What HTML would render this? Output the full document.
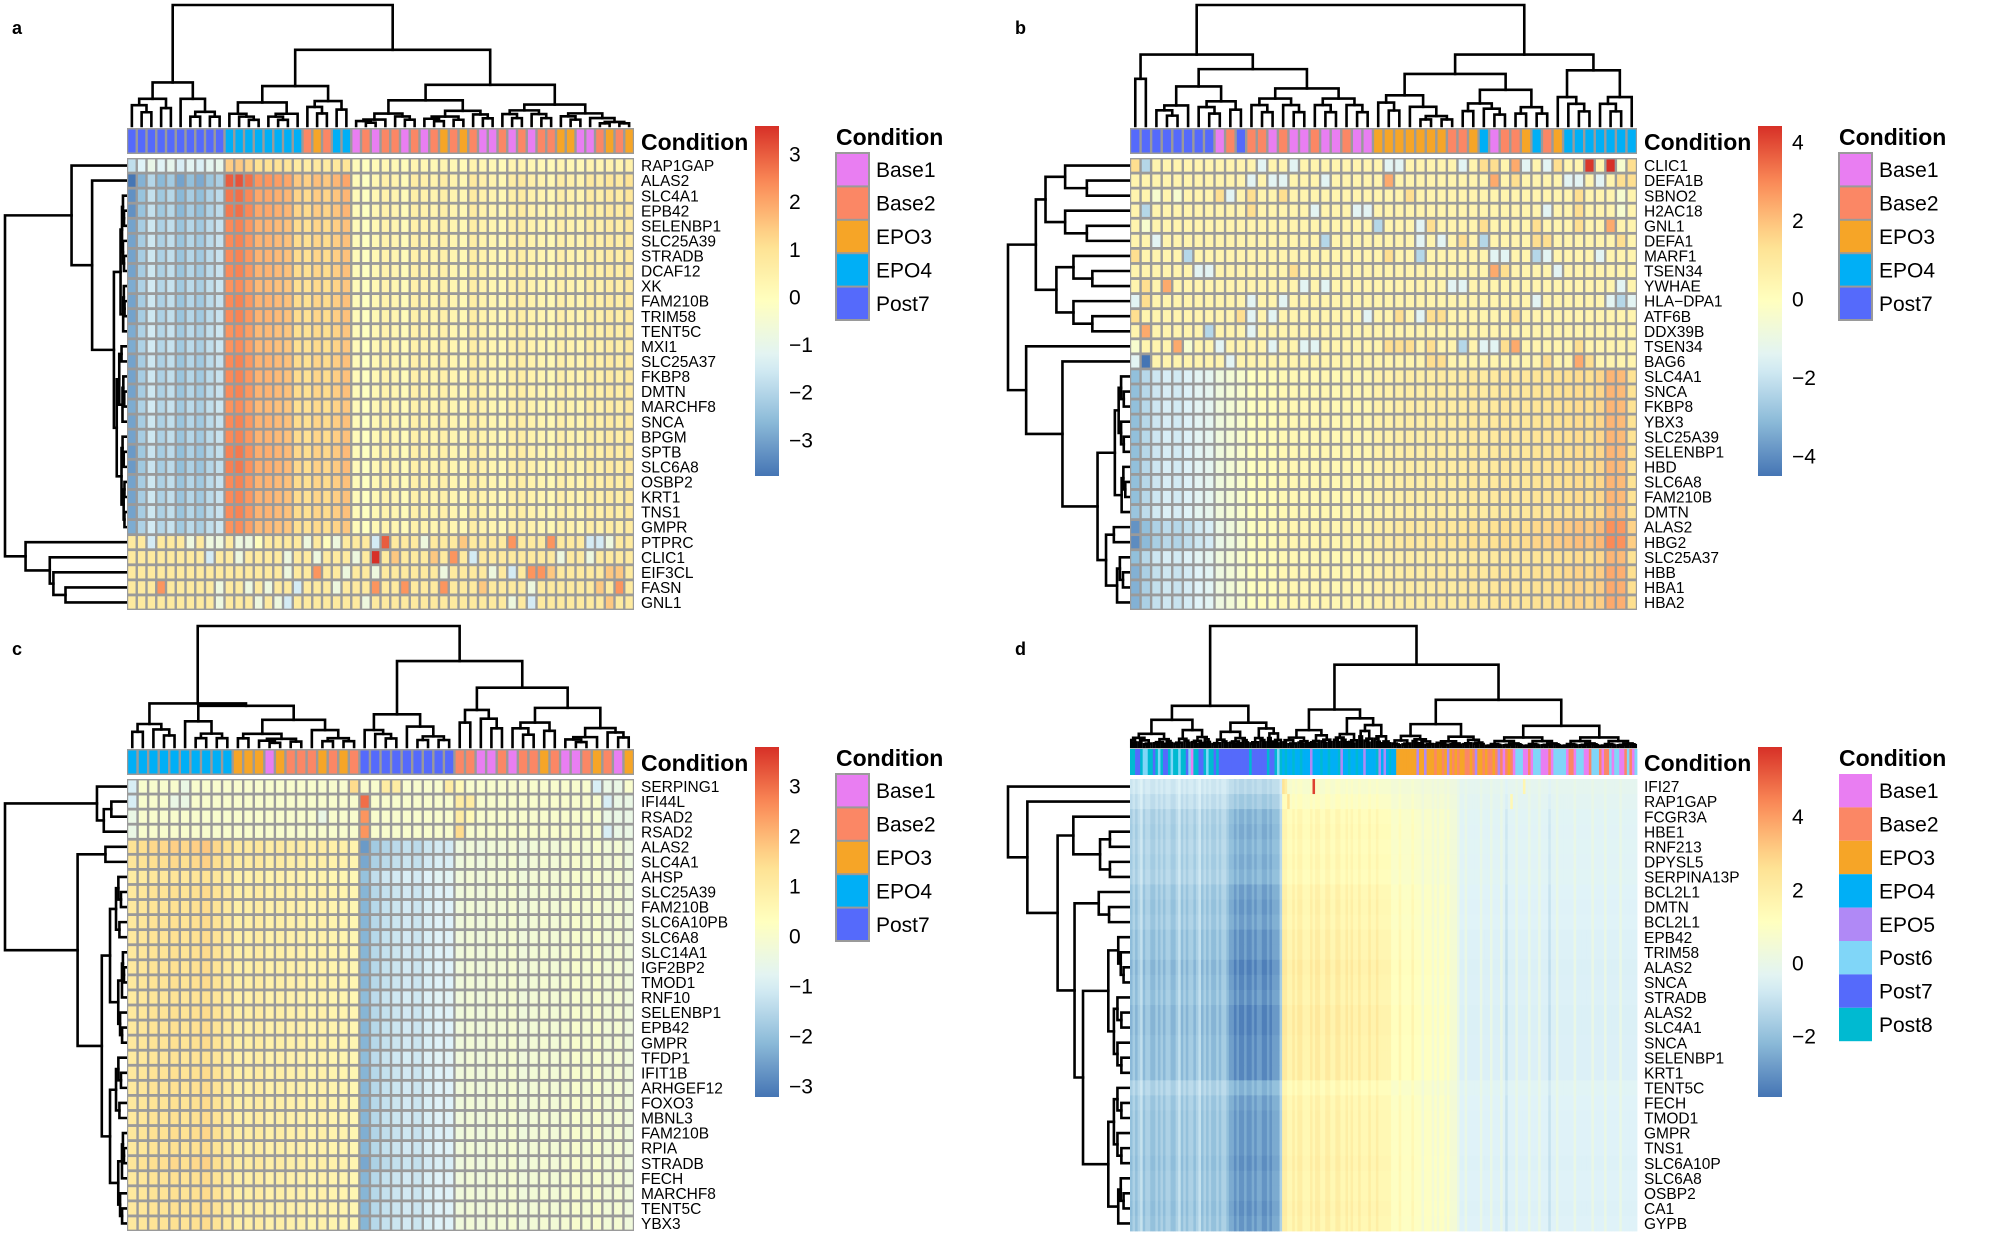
<!DOCTYPE html>
<html><head><meta charset="utf-8"><style>
html,body{margin:0;padding:0;background:#fff;}
svg{display:block;font-family:"Liberation Sans",Arial,sans-serif;}
</style></head><body>
<svg id="fig" width="2006" height="1241" viewBox="0 0 2006 1241" xmlns="http://www.w3.org/2000/svg"></svg>
<script>
// ---------- DATA ----------
// value letters: 'i' = 0, step 0.5 per letter (a=-4 ... q=4)
const rowsA = ["RAP1GAP","ALAS2","SLC4A1","EPB42","SELENBP1","SLC25A39","STRADB","DCAF12","XK","FAM210B","TRIM58","TENT5C","MXI1","SLC25A37","FKBP8","DMTN","MARCHF8","SNCA","BPGM","SPTB","SLC6A8","OSBP2","KRT1","TNS1","GMPR","PTPRC","CLIC1","EIF3CL","FASN","GNL1"];
const condA = "BBBBBBBBBBEEEEEEEESOSEEPSPSSPSPSOSOSPPSPSPSSOOPPSOSO";
const colProfileA = [-3.0,-2.2,-1.6,-2.1,-1.8,-2.4,-2.0,-2.3,-1.9,-1.7,2.4,2.5,2.2,1.8,1.8,1.7,1.6,1.2,1.1,1.3,1.2,1.4,1.6,0.1,-0.1,0.2,0.4,0.3,0.1,0.5,0.4,0.3,0.5,0.3,0.2,0.6,0.4,0.3,0.2,0.5,0.6,0.4,0.3,0.2,0.5,0.4,0.3,0.6,0.5,0.7,0.6,0.8];
const rowScaleA = [0.6,1.25,1.1,1.1,1,1,1,1,0.95,1,1,0.95,0.95,1,1,1,0.95,1,1,1.05,1.05,1,1,1,0.95];
const noisyA = [
 "jjgjjjhjhhjhhijjjjhjihjjjgmjjjhjjjkjjjjljjjljjjgghjj",
 "jjjjjjjjgjjhjjjjhjjhjjjhjojkjjjkjljgjjjjjjjjhjjhjjjj",
 "jjjjjjjjjjjjjjjjhjjljjhjjhjjjjjjhjjjjhjgjllkjjjjjkkj",
 "jjjljjjjjhjjhjhjjgjjjhjjjljjljjjljjjkjjjjhjjjjjjkjlj",
 "jjjjjjjjjhjjjhjhgjjjjjjjhjjjjjjjjjjjjjjhjgjjjjjjjkjj"];
const noisyGainA = 1.5;
const rangeA = [-3.76,3.59];
const ticksA = [3,2,1,0,-1,-2,-3];

const rowsB = ["CLIC1","DEFA1B","SBNO2","H2AC18","GNL1","DEFA1","MARF1","TSEN34","YWHAE","HLA\u2212DPA1","ATF6B","DDX39B","TSEN34","BAG6","SLC4A1","SNCA","FKBP8","YBX3","SLC25A39","SELENBP1","HBD","SLC6A8","FAM210B","DMTN","ALAS2","HBG2","SLC25A37","HBB","HBA1","HBA2"];
const condB = "BBBBBBBBPSBSSPSPPSPPSPPOOOOOOOSSOEPSSOESOEEEEEEE";
const colProfileB = [-3.0,-2.3,-1.9,-1.7,-1.8,-1.6,-1.4,-1.3,-0.8,-0.6,-0.4,-0.1,0.1,0.1,0.3,0.3,0.3,0.3,0.4,0.3,0.4,0.4,0.4,0.6,0.6,0.7,0.8,0.7,0.8,0.9,0.8,0.9,1.0,0.9,1.0,1.1,1.0,1.1,1.2,1.2,1.3,1.4,1.5,1.4,1.6,2.2,2.1,1.3];
const rowScaleB = [1,1,1,1,1,1,1,1,1,0.95,1.3,1.35,1,1.1,1.1,1.1];
const noisyB = [
 "kgjjjjjjjjjjhjjhjjjjjjjjhhjjjjjhjkkjlhjhkjjnjpik",
 "jjjjjjjjjjjhjhhjjjhjjjjjljjjjjjjjjljkjjjjhhjhjkk",
 "jjijijjjkhjkjjkjjjjjjjjjjjkjjjjjjjjjjjjjjjkjjjij",
 "jgjjjjjjjjjkjjjjjhjjjhhjjjjjjjjjjjjjjjjhjjkjjjij",
 "jijjjjjjjjjjjjjjjjjjjjjgjjjhkjjjjkjjjjkjjjkjjljj",
 "jjhjjjjjjjjjjjjjjjgjjjjjjjjhjhjkjgjjjjkkjjjjjjkj",
 "kjjjjgjjjjjjjjjjjjjjjjjjkjjgjjjjjjhhjjghjjjjhjjj",
 "jjjjjjhhjjjjjjjkjjjjjjjjjjjjjjjjjjlkjjjjhjjjjjjj",
 "jkjljjjjjjjjjjjjhjhjjjjjjjjjjjhhjjjjjjjjjjjjjjhj",
 "hkjjjjjjjjjhjjhjjjjjjjjjjjjjjjjjjjjjjjhjjjjjjhgh",
 "kjjjjjjjjjkhjhjjjjjjjjhjjkjhkkjjjjjjkjjjjjjjjjjj",
 "jljjjjjgjjjhjjjjjjjjjjjjjjjjjjjjjjjjjjjjjjjjjjjj",
 "ijjjlijjhjjjjhjjhhjjjjjjkkkjkjjgjhhkljjjjjkjjjjj",
 "hdjjjjjjjhjjjjjjjjjjjjjjjjjjkkjjjjjjjjjkjjlkjjjj"];
const noisyGainB = 1.9;
const rangeB = [-4.51,4.41];
const ticksB = [4,2,0,-2,-4];

const rowsC = ["SERPING1","IFI44L","RSAD2","RSAD2","ALAS2","SLC4A1","AHSP","SLC25A39","FAM210B","SLC6A10PB","SLC6A8","SLC14A1","IGF2BP2","TMOD1","RNF10","SELENBP1","EPB42","GMPR","TFDP1","IFIT1B","ARHGEF12","FOXO3","MBNL3","FAM210B","RPIA","STRADB","FECH","MARCHF8","TENT5C","YBX3"];
const condC = "EEEEEEEEEEOOOPOSSSOSOSBBBBBBBBBSSPPSPSSOSPPSOSPO";
const colProfileC = [1.1,1.2,1.3,1.3,1.4,1.3,1.4,1.5,1.3,1.1,0.9,0.9,1.0,0.8,0.9,0.8,0.8,0.7,0.8,0.7,0.7,0.6,-2.2,-1.5,-1.3,-1.2,-1.1,-1.2,-1.0,-0.9,-0.9,-0.3,-0.2,-0.3,-0.2,-0.2,-0.1,-0.3,-0.2,-0.1,-0.2,-0.1,0,-0.1,0,-0.2,-0.1,-0.3];
const rowScaleC = [1.2,1.1,0.9,1,1,1,1,1,1,1,0.95,1,1,1,0.95,1,1,1,1,1.05,1,1.1,1,1,1,1];
const noisyC = [
 "giiiihiiiiiiiiiiiiiiiliikkiiiikjiiiiiiiiiiiighh",
 "giiihhiiiiiiiiiiiiiiiioiiiiiiiikkiiiiiiiiiiiighh",
 "hiiiiiiiiiiiiiiiiihiiiniiiiiiiikjiiiiiiiiiiiihhh",
 "hiiiiiiiiiiiiiiiiiiiiiniiiiiiiiliiiiiiiiiiiiighh"];
const rangeC = [-3.22,3.78];
const ticksC = [3,2,1,0,-1,-2,-3];

const rowsD = ["IFI27","RAP1GAP","FCGR3A","HBE1","RNF213","DPYSL5","SERPINA13P","BCL2L1","DMTN","BCL2L1","EPB42","TRIM58","ALAS2","SNCA","STRADB","ALAS2","SLC4A1","SNCA","SELENBP1","KRT1","TENT5C","FECH","TMOD1","GMPR","TNS1","SLC6A10P","SLC6A8","OSBP2","CA1","GYPB"];
const condD = "TTBBTLLTTBTLTBBTLTTLTTBLPTTBBTLTTBTBBBBBBBBBBBBTBBBBBBTBBTLTETEETEETEEEVEEETEETEEETVEETEETEEVEEEETVEVETEEOOOOOOOOVOOVOOOSOOSOVOSOSOOSSOSVOOSOSSOSVSPSOSPLLLPPSPLLLPPPSPLLLLLPSSPLLLPPSLLLSPSSLPLLPPSLSPL";
const colProfileD = "efefgeffeefefeffeefgefeffefgefefeefeffeddcdccdccdcddccdcdddfmmllmlmmlllmlmmllmmllmmllmlmllmlllmllmlllllkkklkkkklkkkjkkkjkjkkjkjjjihhihhhhhihhhihhhihghhhihhhhihhhihhhghhihhhhhhihhhhhhihhhhihhhhhihhhhhh";
const rowScaleD = [0.45,0.6,0.8,0.85,0.8,0.85,0.8,0.95,1,0.95,1.05,1.05,1.15,1.1,1.05,1.15,1.15,1.1,1.1,1.1,0.8,0.95,1,1,1,1.05,1,1,1.05,1];
const overridesD = [[0,72,5.6],[0,60,2.5],[0,61,2],[1,62,2.5],[1,150,1.5],[0,155,1.6]];
const rangeD = [-3.66,5.9];
const ticksD = [4,2,0,-2];

const condNamesABC = ["Base1","Base2","EPO3","EPO4","Post7"];
const condNamesD = ["Base1","Base2","EPO3","EPO4","EPO5","Post6","Post7","Post8"];

// ---------- RENDERING ----------
const NS = "http://www.w3.org/2000/svg";
const svg = document.getElementById('fig');
const condColor = {P:"#E97EF2",S:"#FB8765",O:"#F6A527",E:"#00AFF6",V:"#B089F6",L:"#80D6F8",B:"#556AFB",T:"#00BAD1"};
const nameColor = {Base1:"#E97EF2",Base2:"#FB8765",EPO3:"#F6A527",EPO4:"#00AFF6",EPO5:"#B089F6",Post6:"#80D6F8",Post7:"#556AFB",Post8:"#00BAD1"};
const stops = ["#4575B4","#91BFDB","#E0F3F8","#FFFFBF","#FEE090","#FC8D59","#D73027"];
function hex(c){return [parseInt(c.substr(1,2),16),parseInt(c.substr(3,2),16),parseInt(c.substr(5,2),16)];}
function colorFor(v,range){
  let t=(v-range[0])/(range[1]-range[0]); t=Math.max(0,Math.min(1,t));
  const p=t*6, i=Math.min(5,Math.floor(p)), f=p-i;
  const a=hex(stops[i]), b=hex(stops[i+1]);
  return "rgb("+a.map((x,k)=>Math.round(x+(b[k]-x)*f)).join(",")+")";
}
function letterVal(ch){return (ch.charCodeAt(0)-105)*0.5;}
function el(tag,attrs,parent){const e=document.createElementNS(NS,tag);for(const k in attrs)e.setAttribute(k,attrs[k]);(parent||svg).appendChild(e);return e;}

function buildTree(lo,hi,h,splits){
  if(hi-lo===1) return {pos:lo+0.5,h:0,leaf:true};
  const key=lo+","+hi; let s,hL,hR;
  if(splits[key]){s=splits[key][0];}
  else{const n=hi-lo; s=lo+Math.max(1,Math.min(n-1,Math.floor(n/2)+((lo+hi)%3)-1));}
  const f=(a,b)=>0.45+0.35*(((a*7+b*13)%10)/10);
  hL = splits[lo+","+s]?splits[lo+","+s][1]:h*f(lo,s);
  hR = splits[s+","+hi]?splits[s+","+hi][1]:h*f(s,hi);
  const L=buildTree(lo,s,hL,splits), R=buildTree(s,hi,hR,splits);
  return {pos:(L.pos+R.pos)/2,h:h,L:L,R:R};
}
function drawTree(node,g,mapPos,mapH,horizontal){
  if(node.leaf) return;
  const segs=[[node.L.pos,node.L.h],[node.R.pos,node.R.h]];
  let d="";
  for(const [p,hh] of segs){
    if(!horizontal) d+="M"+mapPos(p)+","+mapH(hh)+"V"+mapH(node.h)+" ";
    else d+="M"+mapH(hh)+","+mapPos(p)+"H"+mapH(node.h)+" ";
  }
  if(!horizontal) d+="M"+mapPos(node.L.pos)+","+mapH(node.h)+"H"+mapPos(node.R.pos);
  else d+="M"+mapH(node.h)+","+mapPos(node.L.pos)+"V"+mapPos(node.R.pos);
  el('path',{d:d,fill:"none",stroke:"#000","stroke-width":2.6,"stroke-linecap":"square"},g);
  drawTree(node.L,g,mapPos,mapH,horizontal);drawTree(node.R,g,mapPos,mapH,horizontal);
}

function panel(cfg){
  const ox=cfg.ox, oy=cfg.oy;
  const g=el('g',{transform:"translate("+ox+","+oy+")"});
  
  
  const hx0=127, hx1=634, hy0=158, hy1=610, ay0=128, ay1=154;
  const nC=cfg.cond.length, nR=cfg.rows.length;
  const cw=(hx1-hx0)/nC, rh=(hy1-hy0)/nR;
  const xs=c=>hx0+c*cw, ys=r=>hy0+r*rh;
  const lt=el('text',{x:12,y:34,"font-size":18,"font-weight":"bold"},g); lt.textContent=cfg.letter;
   
  const cg=el('g',{},g);  
  const ct=buildTree(0,nC,1,cfg.colSplits);
  drawTree(ct,cg,p=>xs(p),h=>ay0-2-h*(ay0-2-cfg.colTop),false);
  const rg=el('g',{},g);  
  const rt=buildTree(0,nR,1,cfg.rowSplits);
  drawTree(rt,rg,p=>ys(p),h=>hx0-1-h*(hx0-1-5),true);
  const ag=el('g',{},g);  
  if(cfg.grid) el('rect',{x:hx0,y:ay0,width:hx1-hx0,height:ay1-ay0,fill:"#9a9a9a"},ag);
  for(let c=0;c<nC;c++){
    const r=el('rect',cfg.grid?{x:xs(c)+1.2,y:ay0+1.5,width:cw-2.4,height:ay1-ay0-3,fill:condColor[cfg.cond[c]]}:{x:xs(c),y:ay0,width:cw+0.4,height:ay1-ay0,fill:condColor[cfg.cond[c]]},ag);
    
    
  }
  const at=el('text',{x:641,y:150,"font-size":23,"font-weight":"bold"},g); at.textContent="Condition";
   
  const hg=el('g',{},g);  
  if(cfg.grid) el('rect',{x:hx0,y:hy0,width:hx1-hx0,height:hy1-hy0,fill:"#9a9a9a"},hg);
  for(let r=0;r<nR;r++){
    for(let c=0;c<nC;c++){
      const v=cfg.value(r,c);
      const cell=el('rect',cfg.grid?{x:xs(c)+1.2,y:ys(r)+1.4,width:cw-2.4,height:rh-2.8,fill:colorFor(v,cfg.range)}:{x:xs(c),y:ys(r),width:cw+0.4,height:rh+0.4,fill:colorFor(v,cfg.range)},hg);
      
      
    }
    const t=el('text',{x:641,y:ys(r)+rh/2+5.6,"font-size":15.5},g); t.textContent=cfg.rows[r];
     
  }
  const kid="grad"+cfg.letter;
  const defs=el('defs',{},g); const lg=el('linearGradient',{id:kid,x1:0,y1:1,x2:0,y2:0},defs);
  for(let i=0;i<=20;i++){const v=cfg.range[0]+(cfg.range[1]-cfg.range[0])*i/20; el('stop',{offset:(i/20),"stop-color":colorFor(v,cfg.range)},lg);}
  const ky0=126, ky1=476;
  const kr=el('rect',{x:755,y:ky0,width:24,height:ky1-ky0,fill:"url(#"+kid+")"},g);
   
  for(const tv of cfg.ticks){
    const y=ky0+(cfg.range[1]-tv)/(cfg.range[1]-cfg.range[0])*(ky1-ky0);
    const t=el('text',{x:789,y:y+7.5,"font-size":21},g); t.textContent=(tv<0?"\u2212"+(-tv):""+tv);
     
  }
  const lt2=el('text',{x:836,y:145,"font-size":23,"font-weight":"bold"},g); lt2.textContent="Condition";
   
  const bh=33.4, by0=153;
  if(cfg.grid) el('rect',{x:835,y:by0-1,width:35,height:bh*cfg.names.length+2,fill:"#9a9a9a"},g);
  cfg.names.forEach((nm,i)=>{
    const b=el('rect',cfg.grid?{x:837,y:by0+i*bh+1,width:31,height:bh-2,fill:nameColor[nm]}:{x:836,y:by0+i*bh,width:33,height:bh,fill:nameColor[nm]},g);
     
    const t=el('text',{x:876,y:by0+i*bh+bh/2+7.5,"font-size":21},g); t.textContent=nm;
     
  });
}

panel({letter:"a",ox:0,oy:0,grid:true,rows:rowsA,cond:condA,range:rangeA,ticks:ticksA,names:condNamesABC,colTop:5,
  value:(r,c)=> r<25 ? colProfileA[c]*rowScaleA[r] : letterVal((noisyA[r-25][c]||"j"))*noisyGainA,
  colSplits:{"0,52":[10,1],"0,10":[5,0.36],"10,52":[23,0.63],"10,23":[18,0.33],"23,52":[38,0.34]},
  rowSplits:{"0,30":[25,1],"0,25":[1,0.45],"1,25":[2,0.28],"2,25":[12,0.1],"25,30":[26,0.83],"26,30":[27,0.63],"27,30":[28,0.6],"28,30":[29,0.5]}});

panel({letter:"b",ox:1003,oy:0,grid:true,rows:rowsB,cond:condB,range:rangeB,ticks:ticksB,names:condNamesABC,colTop:5,
  value:(r,c)=> r<14 ? 0.5+(letterVal((noisyB[r][c]||"j"))-0.5)*noisyGainB : colProfileB[c]*rowScaleB[r-14],
  colSplits:{"0,48":[23,1],"0,23":[2,0.59],"0,2":[1,0.39],"2,23":[11,0.47],"23,48":[40,0.59],"23,40":[31,0.43],"40,48":[44,0.46]},
  rowSplits:{"0,30":[12,1],"0,12":[6,0.77],"0,6":[3,0.69],"6,12":[9,0.6],"12,30":[13,0.85],"13,30":[14,0.55],"14,30":[24,0.26]}});

panel({letter:"c",ox:0,oy:621,grid:true,rows:rowsC,cond:condC,range:rangeC,ticks:ticksC,names:condNamesABC,colTop:5,
  value:(r,c)=> r<4 ? letterVal((noisyC[r][c]||"i")) : colProfileC[c]*rowScaleC[r-4],
  colSplits:{"0,48":[22,1],"0,22":[5,0.36],"0,5":[2,0.19],"5,22":[10,0.34],"22,48":[31,0.71],"22,31":[26,0.27],"31,48":[36,0.49]},
  rowSplits:{"0,30":[4,1],"0,4":[1,0.24],"4,30":[6,0.4],"4,6":[5,0.17],"6,30":[18,0.2]}});

panel({letter:"d",ox:1003,oy:621,grid:false,rows:rowsD,cond:condD,range:rangeD,ticks:ticksD,names:condNamesD,colTop:5,
  value:(r,c)=>{for(const o of overridesD){if(o[0]===r&&o[1]===c)return o[2];} return letterVal(colProfileD[c]||"h")*rowScaleD[r];},
  colSplits:{"0,200":[60,1],"0,60":[32,0.34],"60,200":[103,0.68],"60,103":[80,0.31],"103,200":[140,0.39]},
  rowSplits:{"0,30":[1,1],"1,30":[2,0.84],"2,30":[7,0.59],"2,7":[3,0.46],"7,30":[10,0.45],"7,10":[8,0.25],"10,30":[20,0.38]}});
</script>
</body></html>
